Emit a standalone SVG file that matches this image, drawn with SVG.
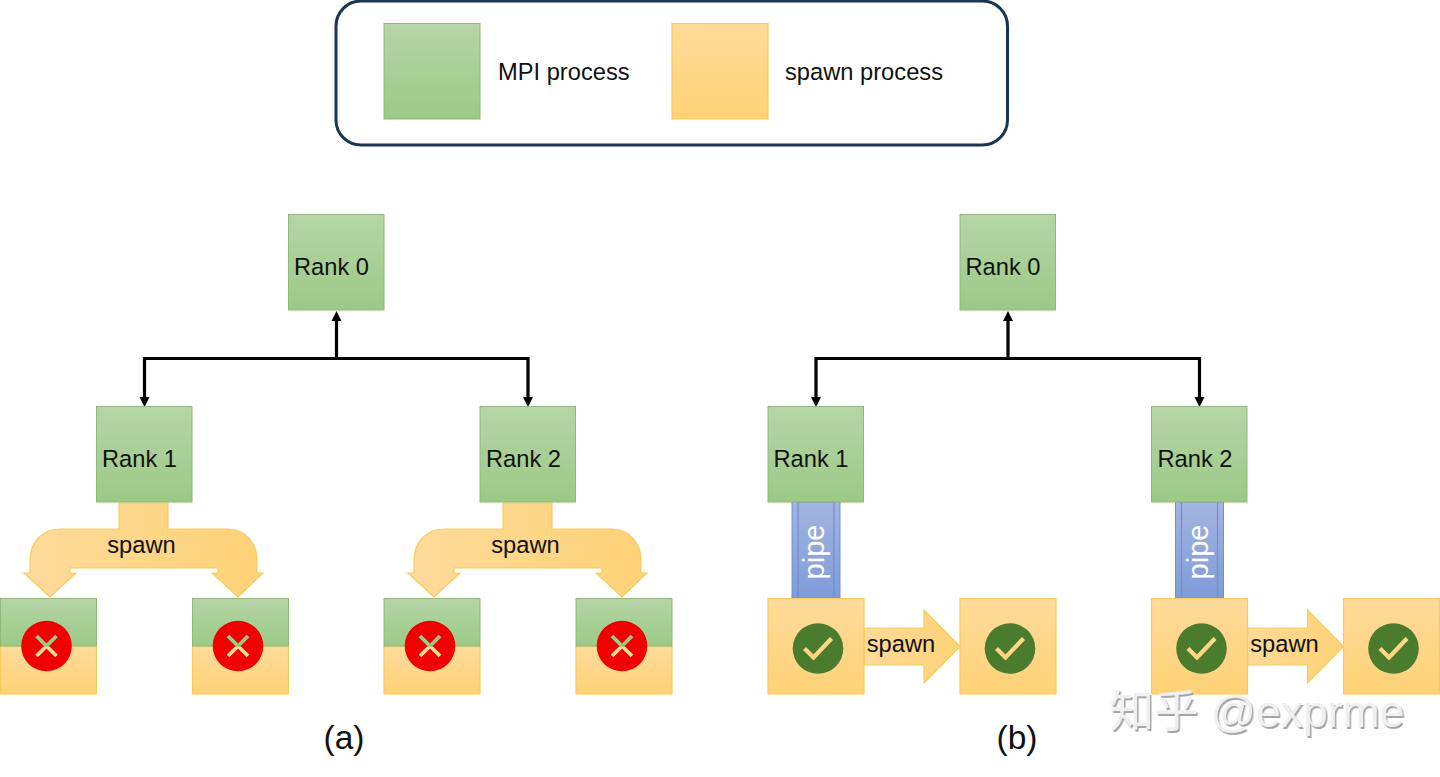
<svg xmlns="http://www.w3.org/2000/svg" xmlns:xlink="http://www.w3.org/1999/xlink" width="1440" height="777" viewBox="0 0 1440 777">
<style>
text{font-family:"Liberation Sans",Arial,sans-serif;fill:#111;font-size:23.700px}
.c{text-anchor:middle}
.g{fill:url(#gG);stroke:#8fb87a;stroke-width:1}
.o{fill:url(#gO);stroke:#f5cd5f;stroke-width:1.2}
.ar{fill:url(#gA);stroke:#f5cd5f;stroke-width:1.2}
.w{fill:none;stroke:#000;stroke-width:3.2}
.h{fill:#000}
</style>
<defs>
<linearGradient id="gG" x1="0" y1="0" x2="0" y2="1"><stop offset="0" stop-color="#b6d5a8"/><stop offset="1" stop-color="#9bca85"/></linearGradient>
<linearGradient id="gO" x1="0" y1="0" x2="0" y2="1"><stop offset="0" stop-color="#fedb9b"/><stop offset="1" stop-color="#fed276"/></linearGradient>
<linearGradient id="gA" x1="0" y1="0" x2="1" y2="0"><stop offset="0" stop-color="#fedb9b"/><stop offset="1" stop-color="#fed276"/></linearGradient>
<linearGradient id="gP" x1="0" y1="0" x2="0" y2="1"><stop offset="0" stop-color="#a3b5e0"/><stop offset="1" stop-color="#7f9bd8"/></linearGradient>
<filter id="wm" x="-5%" y="-10%" width="110%" height="130%"><feDropShadow dx="1.500" dy="2" stdDeviation="0.400" flood-color="#a6a6a6" flood-opacity="1"/></filter>
<mask id="mx" maskUnits="userSpaceOnUse" x="-30" y="-30" width="60" height="60"><rect x="-30" y="-30" width="60" height="60" fill="#fff"/><path d="M-10,-10L10,10M10,-10L-10,10" stroke="#000" stroke-width="3.800" fill="none"/></mask>
<mask id="mc" maskUnits="userSpaceOnUse" x="-30" y="-30" width="60" height="60"><rect x="-30" y="-30" width="60" height="60" fill="#fff"/><path d="M-13.500,0L-4.500,9L13.500,-10" stroke="#000" stroke-width="4.200" fill="none"/></mask>
<circle id="fail" r="25.300" fill="#f00000" mask="url(#mx)"/>
<circle id="ok" r="25.300" fill="#4b7c2e" mask="url(#mc)"/>
<path id="split" class="ar" d="M119,503H168V529H228C247,529 257,545 257,560V573H263L238,597L212,573H218V568H70V573H76L50,597L24,573H30V560C30,545 40,529 60,529H119Z"/>
<path id="sa" class="ar" d="M864,628H924V610L960,646.500L924,683V665H864Z"/>
<g id="pp"><rect x="792" y="502" width="48" height="96" fill="url(#gP)" stroke="#6d8fd6" stroke-width="1"/><path d="M798,502V598M834,502V598" stroke="#6d8fd6" stroke-width="1.200" fill="none"/></g>
</defs>

<g id="legend">
<rect x="336" y="1" width="671.500" height="144" rx="25" fill="#fff" stroke="#1b3557" stroke-width="3"/>
<rect class="g" x="384" y="23.500" width="96" height="95.500"/>
<text x="498" y="80">MPI process</text>
<rect class="o" x="672" y="23.500" width="96" height="95.500"/>
<text x="785" y="80">spawn process</text>
</g>

<g id="connectors">
<path class="w" d="M144.500,398V358.500H528V398M336.500,358.500V320"/>
<path class="h" d="M139.500,397H149.500L144.500,407ZM523,397H533L528,407ZM331.500,321H341.500L336.500,311Z"/>
<path class="w" d="M816,398V358.500H1199.500V398M1008,358.500V320"/>
<path class="h" d="M811,397H821L816,407ZM1194.500,397H1204.500L1199.500,407ZM1003,321H1013L1008,311Z"/>
<use id="spawn-a1" xlink:href="#split"/>
<use id="spawn-a2" xlink:href="#split" x="384"/>
<use id="pipe-b1" xlink:href="#pp"/>
<use id="pipe-b2" xlink:href="#pp" x="383.500"/>
<use id="spawn-b1" xlink:href="#sa"/>
<use id="spawn-b2" xlink:href="#sa" x="383.500"/>
</g>

<g id="a-rank0"><rect class="g" x="288.500" y="214.500" width="95.500" height="95.500"/><text class="c" x="331.500" y="275">Rank 0</text></g>
<g id="a-rank1"><rect class="g" x="96.500" y="406.500" width="95.500" height="95.500"/><text class="c" x="139.500" y="467">Rank 1</text></g>
<g id="a-rank2"><rect class="g" x="480" y="406.500" width="95.500" height="95.500"/><text class="c" x="523.500" y="467">Rank 2</text></g>
<g id="b-rank0"><rect class="g" x="960" y="214.500" width="95.500" height="95.500"/><text class="c" x="1003" y="275">Rank 0</text></g>
<g id="b-rank1"><rect class="g" x="768" y="406.500" width="95.500" height="95.500"/><text class="c" x="811" y="467">Rank 1</text></g>
<g id="b-rank2"><rect class="g" x="1151.500" y="406.500" width="95.500" height="95.500"/><text class="c" x="1195" y="467">Rank 2</text></g>

<g id="a-p1"><rect class="o" x="0.500" y="646" width="96" height="48"/><rect class="g" x="0.500" y="598.500" width="96" height="47.500"/><use xlink:href="#fail" x="46.500" y="646"/></g>
<g id="a-p2"><rect class="o" x="192.500" y="646" width="96" height="48"/><rect class="g" x="192.500" y="598.500" width="96" height="47.500"/><use xlink:href="#fail" x="238" y="646"/></g>
<g id="a-p3"><rect class="o" x="384" y="646" width="96" height="48"/><rect class="g" x="384" y="598.500" width="96" height="47.500"/><use xlink:href="#fail" x="430" y="646"/></g>
<g id="a-p4"><rect class="o" x="576" y="646" width="96" height="48"/><rect class="g" x="576" y="598.500" width="96" height="47.500"/><use xlink:href="#fail" x="622" y="646"/></g>

<g id="b-p1"><rect class="o" x="768" y="598.500" width="96" height="95.500"/><use xlink:href="#ok" x="818" y="648.500"/></g>
<g id="b-p2"><rect class="o" x="960" y="598.500" width="96" height="95.500"/><use xlink:href="#ok" x="1010" y="648.500"/></g>
<g id="b-p3"><rect class="o" x="1151.500" y="598.500" width="96" height="95.500"/><use xlink:href="#ok" x="1201.500" y="648.500"/></g>
<g id="b-p4"><rect class="o" x="1343.500" y="598.500" width="96" height="95.500"/><use xlink:href="#ok" x="1393.500" y="648.500"/></g>

<g id="labels">
<text class="c" x="141.500" y="553">spawn</text>
<text class="c" x="525.500" y="553">spawn</text>
<text class="c" x="901" y="652">spawn</text>
<text class="c" x="1284.500" y="652">spawn</text>
<text class="c" transform="translate(824,552) rotate(-90)" style="fill:#fff;font-size:29px">pipe</text>
<text class="c" transform="translate(1207.500,552) rotate(-90)" style="fill:#fff;font-size:29px">pipe</text>
<text class="c" x="344" y="749" style="font-size:33.500px">(a)</text>
<text class="c" x="1017" y="749" style="font-size:33.500px">(b)</text>
</g>
<text id="watermark" x="1109.500" y="727" filter="url(#wm)" style="fill:#f0f0f0;font-size:44.500px;font-family:'Liberation Sans','Noto Sans CJK SC',sans-serif">知乎 @exprme</text>
</svg>
